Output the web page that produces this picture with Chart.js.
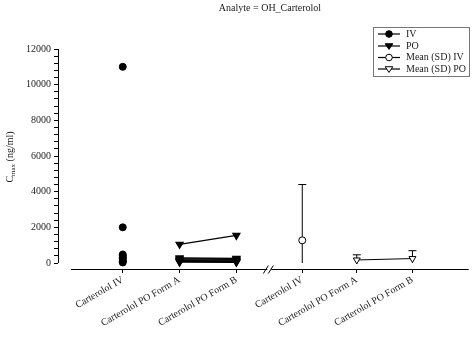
<!DOCTYPE html>
<html>
<head>
<meta charset="utf-8">
<script src="https://cdn.jsdelivr.net/npm/chart.js@4.4.0/dist/chart.umd.min.js"></script>
<style>
  html, body { margin: 0; padding: 0; background: #fff; }
</style>
</head>
<body>
<canvas id="cmaxchart" width="474" height="337"></canvas>
<script>
const titleText = "Analyte = OH_Carterolol";
const groupLabels = ["Carterolol IV", "Carterolol PO Form A", "Carterolol PO Form B",
                     "Carterolol IV", "Carterolol PO Form A", "Carterolol PO Form B"];
const groupPos = [1, 2, 3, 4.16, 5.12, 6.1];
const breakPos = 3.58;

// individual subjects
const ivValues = [11000, 2000, 480, 400, 320, 240, 160, 90, 30];
const poFormA = [1050, 280, 230, 180, 130, 90, 50];
const poFormB = [1550, 260, 210, 160, 120, 80, 40];

// mean (SD)
const meanIV = [1270];
const sdIV = [3130];
const meanPO = [170, 250];
const sdPO = [290, 440];

const yMajor = [0, 2000, 4000, 6000, 8000, 10000, 12000];
const yMinorStep = 400;
const legendLabels = ["IV", "PO", "Mean (SD) IV", "Mean (SD) PO"];

const serif = "'Liberation Serif', 'Times New Roman', serif";
const textColor = "#222";

var datasets = [];
datasets.push({
  label: "IV",
  data: ivValues.map(v => ({ x: groupPos[0], y: v })),
  showLine: false,
  pointStyle: "circle",
  pointRadius: 3.5,
  backgroundColor: "#000",
  borderColor: "#000",
  borderWidth: 1
});
poFormA.forEach(function (a, i) {
  datasets.push({
    label: "PO",
    data: [{ x: groupPos[1], y: a }, { x: groupPos[2], y: poFormB[i] }],
    showLine: true,
    pointStyle: "triangle",
    rotation: 180,
    pointRadius: 4,
    backgroundColor: "#000",
    borderColor: "#000",
    borderWidth: 1.3
  });
});
datasets.push({
  label: "Mean (SD) IV",
  data: meanIV.map(v => ({ x: groupPos[3], y: v })),
  showLine: false,
  pointStyle: "circle",
  pointRadius: 3.5,
  backgroundColor: "#fff",
  borderColor: "#000",
  borderWidth: 1
});
datasets.push({
  label: "Mean (SD) PO",
  data: meanPO.map((v, i) => ({ x: groupPos[4 + i], y: v })),
  showLine: true,
  pointStyle: "triangle",
  rotation: 180,
  pointRadius: 4,
  backgroundColor: "#fff",
  borderColor: "#000",
  borderWidth: 1
});

function drawTri(ctx, x, y, r, fill) {
  ctx.beginPath();
  ctx.moveTo(x - r, y - r * 0.6);
  ctx.lineTo(x + r, y - r * 0.6);
  ctx.lineTo(x, y + r * 0.9);
  ctx.closePath();
  ctx.fillStyle = fill;
  ctx.fill();
  ctx.strokeStyle = "#000";
  ctx.lineWidth = 1;
  ctx.stroke();
}

const errorBars = {
  id: "errorBars",
  beforeDatasetsDraw(chart) {
    const ctx = chart.ctx, xs = chart.scales.x, ys = chart.scales.y;
    const bars = [];
    meanIV.forEach((m, i) => bars.push([groupPos[3 + i], m, sdIV[i]]));
    meanPO.forEach((m, i) => bars.push([groupPos[4 + i], m, sdPO[i]]));
    ctx.save();
    ctx.strokeStyle = "#000";
    ctx.lineWidth = 1;
    bars.forEach(function (b) {
      const px = xs.getPixelForValue(b[0]);
      const top = ys.getPixelForValue(b[1] + b[2]);
      const bot = ys.getPixelForValue(Math.max(0, b[1] - b[2]));
      ctx.beginPath();
      ctx.moveTo(px, bot); ctx.lineTo(px, top);
      ctx.moveTo(px - 4, top); ctx.lineTo(px + 4, top);
      ctx.stroke();
    });
    ctx.restore();
  }
};

const decorations = {
  id: "decorations",
  afterDraw(chart) {
    const ctx = chart.ctx, area = chart.chartArea;
    const xs = chart.scales.x, ys = chart.scales.y;
    ctx.save();
    ctx.fillStyle = textColor;
    ctx.strokeStyle = "#000";
    ctx.lineWidth = 1;

    // title
    ctx.font = "10px " + serif;
    ctx.textAlign = "center";
    ctx.textBaseline = "middle";
    ctx.fillText(titleText, 270, 8);

    // y axis line (0 to 12000 only)
    const yl = Math.round(area.left) + 0.5;
    ctx.beginPath();
    ctx.moveTo(yl, ys.getPixelForValue(0));
    ctx.lineTo(yl, ys.getPixelForValue(yMajor[yMajor.length - 1]));
    ctx.stroke();

    // x axis line, offset from the y axis
    const xb = Math.round(area.bottom) + 0.5;
    ctx.beginPath();
    ctx.moveTo(71, xb);
    ctx.lineTo(area.right, xb);
    ctx.stroke();

    // axis break
    const bx = xs.getPixelForValue(breakPos);
    ctx.fillStyle = "#fff";
    ctx.fillRect(bx - 2, xb - 2, 4, 4);
    ctx.beginPath();
    ctx.moveTo(bx - 6, xb + 4); ctx.lineTo(bx - 1, xb - 4);
    ctx.moveTo(bx - 1, xb + 4); ctx.lineTo(bx + 4, xb - 4);
    ctx.stroke();

    // y axis title with subscript
    ctx.fillStyle = textColor;
    ctx.translate(10, 157);
    ctx.rotate(-Math.PI / 2);
    ctx.textAlign = "left";
    ctx.textBaseline = "middle";
    const big = "10px " + serif, small = "7px " + serif;
    ctx.font = big; const wC = ctx.measureText("C").width;
    const wR = ctx.measureText(" (ng/ml)").width;
    ctx.font = small; const wS = ctx.measureText("max").width;
    let tx = -(wC + wS + wR) / 2;
    ctx.font = big; ctx.fillText("C", tx, 0); tx += wC;
    ctx.font = small; ctx.fillText("max", tx, 3); tx += wS;
    ctx.font = big; ctx.fillText(" (ng/ml)", tx, 0);
    ctx.setTransform(1, 0, 0, 1, 0, 0);

    // legend
    ctx.strokeStyle = "#777";
    ctx.strokeRect(373.5, 27.5, 96, 49);
    ctx.font = "10px " + serif;
    ctx.textAlign = "left";
    ctx.textBaseline = "middle";
    const rows = [34, 46, 57.5, 69];
    legendLabels.forEach(function (lab, i) {
      const y = rows[i];
      ctx.strokeStyle = "#000";
      ctx.lineWidth = 1.2;
      ctx.beginPath(); ctx.moveTo(378, y); ctx.lineTo(400, y); ctx.stroke();
      ctx.lineWidth = 1;
      if (i === 0 || i === 2) {
        ctx.beginPath(); ctx.arc(389, y, 3.3, 0, Math.PI * 2);
        ctx.fillStyle = i === 0 ? "#000" : "#fff";
        ctx.fill(); ctx.stroke();
      } else {
        drawTri(ctx, 389, y, 3.8, i === 1 ? "#000" : "#fff");
      }
      ctx.fillStyle = textColor;
      ctx.fillText(lab, 406, y);
    });
    ctx.restore();
  }
};

new Chart(document.getElementById("cmaxchart"), {
  type: "scatter",
  data: { datasets: datasets },
  options: {
    responsive: false,
    animation: false,
    devicePixelRatio: 1,
    layout: { padding: { top: 49, right: 4, left: 0, bottom: 0 } },
    plugins: { legend: { display: false }, title: { display: false }, tooltip: { enabled: false } },
    elements: { point: { hoverRadius: 4 } },
    scales: {
      x: {
        type: "linear",
        min: -0.14,
        max: 7.09,
        afterBuildTicks: function (scale) {
          scale.ticks = groupPos.map(v => ({ value: v }));
        },
        afterFit: function (scale) { scale.height = 68; },
        ticks: {
          autoSkip: false,
          minRotation: 30,
          maxRotation: 30,
          padding: 1,
          color: textColor,
          font: { family: serif, size: 10 },
          callback: function (v, i) { return groupLabels[i]; }
        },
        grid: { drawOnChartArea: false, drawTicks: true, tickLength: 4, color: "#000" },
        border: { display: false }
      },
      y: {
        type: "linear",
        min: -336,
        max: 12000,
        afterBuildTicks: function (scale) {
          var t = [];
          for (var v = 0; v <= 12000; v += yMinorStep) t.push({ value: v });
          scale.ticks = t;
        },
        afterFit: function (scale) { scale.width = 58; },
        ticks: {
          autoSkip: false,
          padding: 3,
          color: textColor,
          font: { family: serif, size: 10 },
          callback: function (v) { return yMajor.indexOf(v) >= 0 ? String(v) : ""; }
        },
        grid: {
          drawOnChartArea: false,
          drawTicks: true,
          tickLength: 4,
          color: "#000"
        },
        border: { display: false }
      }
    }
  },
  plugins: [errorBars, decorations]
});
</script>
</body>
</html>
